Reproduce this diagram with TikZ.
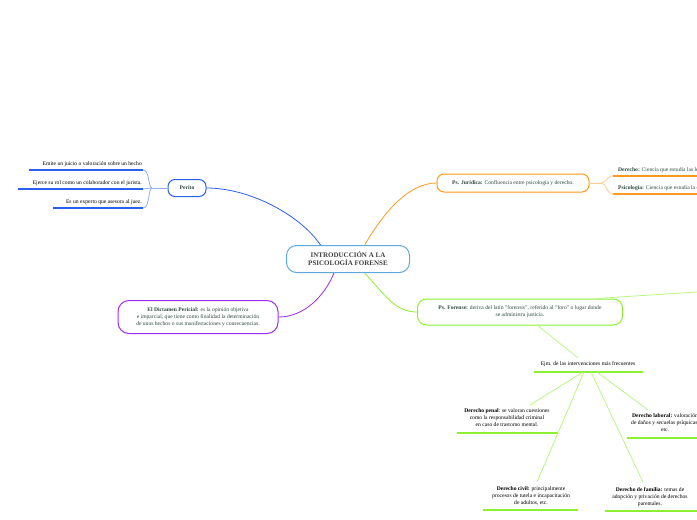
\documentclass[tikz,border=0pt]{standalone}
\usepackage{fontspec}
\setmainfont{Liberation Serif}
\begin{document}
\begin{tikzpicture}[x=1pt,y=-1pt,
  txt/.style={font=\fontsize{5.6}{7}\selectfont, text=black!75!green!60!blue, inner sep=1pt, align=center},
  box/.style={txt, draw, rounded corners=7pt, line width=1pt, fill=white},
  uline/.style={line width=1.6pt},
  conn/.style={line width=0.8pt}]
\useasboundingbox (0,0) rectangle (697,520);
\definecolor{cblue}{HTML}{2A5FF0}
\definecolor{lblue}{HTML}{5EA8E0}
\definecolor{corange}{HTML}{FF9A1E}
\definecolor{cpurple}{HTML}{A12BF2}
\definecolor{cgreen}{HTML}{8CF031}
\definecolor{tg}{HTML}{2E4A40}
\tikzset{txt/.append style={text=tg}}
% central
\node[box, draw=lblue, minimum width=123pt, minimum height=27pt, rounded corners=10pt, font=\fontsize{7}{8}\selectfont\bfseries, text=black!75] (c) at (348,259) {INTRODUCCIÓN A LA\\PSICOLOGÍA FORENSE};
% Perito
\node[box, draw=cblue, minimum width=38pt, minimum height=17pt, font=\fontsize{5.6}{7}\selectfont\bfseries] (p) at (187,188) {Perito};
\draw[conn, cblue] (c.153) .. controls (300,215) and (250,188) .. (p.east);
\coordinate (pj) at (152,188);
\draw[conn, cblue!50] (p.west) -- (pj);
\node[txt, anchor=south east, text=black] (p1) at (143,168) {Emite un juicio o valoración sobre un hecho};
\node[txt, anchor=south east, text=black] (p2) at (143,187) {Ejerce su rol como un colaborador con el jurista.};
\node[txt, anchor=south east, text=black] (p3) at (143,206) {Es un experto que asesora al juez.};
\draw[uline, cblue] (29,170) -- (143,170);
\draw[uline, cblue] (18,189) -- (143,189);
\draw[uline, cblue] (53,208) -- (143,208);
\draw[conn, cblue!50] (pj) .. controls (148,188) and (150,170) .. (143,170);
\draw[conn, cblue!50] (pj) -- (143,189);
\draw[conn, cblue!50] (pj) .. controls (148,188) and (150,208) .. (143,208);
% Dictamen
\node[box, draw=cpurple, minimum width=160pt, minimum height=33pt, rounded corners=11pt] (d) at (198,317) {\textbf{El Dictamen Pericial:} es la opinión objetiva\\e imparcial, que tiene como finalidad la determinación\\de unos hechos o sus manifestaciones y consecuencias.};
\draw[conn, cpurple] (c.-135) .. controls (325,295) and (305,317) .. (d.east);
% Ps Juridica
\node[box, draw=corange, minimum width=152pt, minimum height=18pt] (j) at (513,183) {\textbf{Ps. Jurídica:} Confluencia entre psicología y derecho.};
\draw[conn, corange] (c.40) .. controls (385,210) and (410,183) .. (j.west);
\coordinate (jj) at (601,183);
\draw[conn, corange!50] (j.east) -- (jj);
\node[txt, anchor=south west] (j1) at (617,174) {\textbf{Derecho:} Ciencia que estudia las leyes y normas};
\node[txt, anchor=south west] (j2) at (617,192) {\textbf{Psicología:} Ciencia que estudia la conducta};
\draw[uline, corange] (613,176) -- (697,176);
\draw[uline, corange] (613,194) -- (697,194);
\draw[conn, corange!50] (jj) .. controls (607,183) and (606,176) .. (613,176);
\draw[conn, corange!50] (jj) .. controls (607,183) and (606,194) .. (613,194);
% Ps Forense
\node[box, draw=cgreen, minimum width=205pt, minimum height=26pt, rounded corners=9pt] (f) at (520,312) {\textbf{Ps. Forense:} deriva del latín "forensis", referido al "foro" o lugar donde\\se administra justicia.};
\draw[conn, cgreen] (c.-40) .. controls (385,295) and (395,312) .. (f.west);
\coordinate (fo) at (697,292);
\draw[conn, cgreen!60] (f.10) -- (fo);
% Ejm
\node[txt, text=black] (e) at (588,364) {Ejm. de las intervenciones más frecuentes};
\draw[uline, cgreen] (534,372) -- (643,372);
\coordinate (et) at (578,358);
\draw[conn, cgreen!60] (537,325) -- (et);
\coordinate (eb) at (586,372);
\node[txt, text=black] (n1) at (507,418) {\textbf{Derecho penal}: se valoran cuestiones\\como la responsabilidad criminal\\en caso de trastorno mental.};
\draw[uline, cgreen] (457,433) -- (558,433);
\node[txt, text=black] (n2) at (531,496) {\textbf{Derecho civil:} principalmente\\procesos de tutela e incapacitación\\de adultos, etc.};
\draw[uline, cgreen] (483,510) -- (578,510);
\node[txt, text=black] (n3) at (650,497) {\textbf{Derecho de familia:} temas de\\adopción y privación de derechos\\parentales.};
\draw[uline, cgreen] (605,511) -- (697,511);
\node[txt, text=black, anchor=north west] (n4) at (630,412) {\textbf{Derecho laboral:} valoración\\de daños y secuelas psíquicas,\\etc.};
\draw[uline, cgreen] (627,438) -- (697,438);
\draw[conn, cgreen!60] (583,372) -- (530,405);
\draw[conn, cgreen!60] (584,372) -- (537,482);
\draw[conn, cgreen!60] (591,372) -- (643,482);
\draw[conn, cgreen!60] (597,372) -- (648,410);
\end{tikzpicture}
\end{document}
